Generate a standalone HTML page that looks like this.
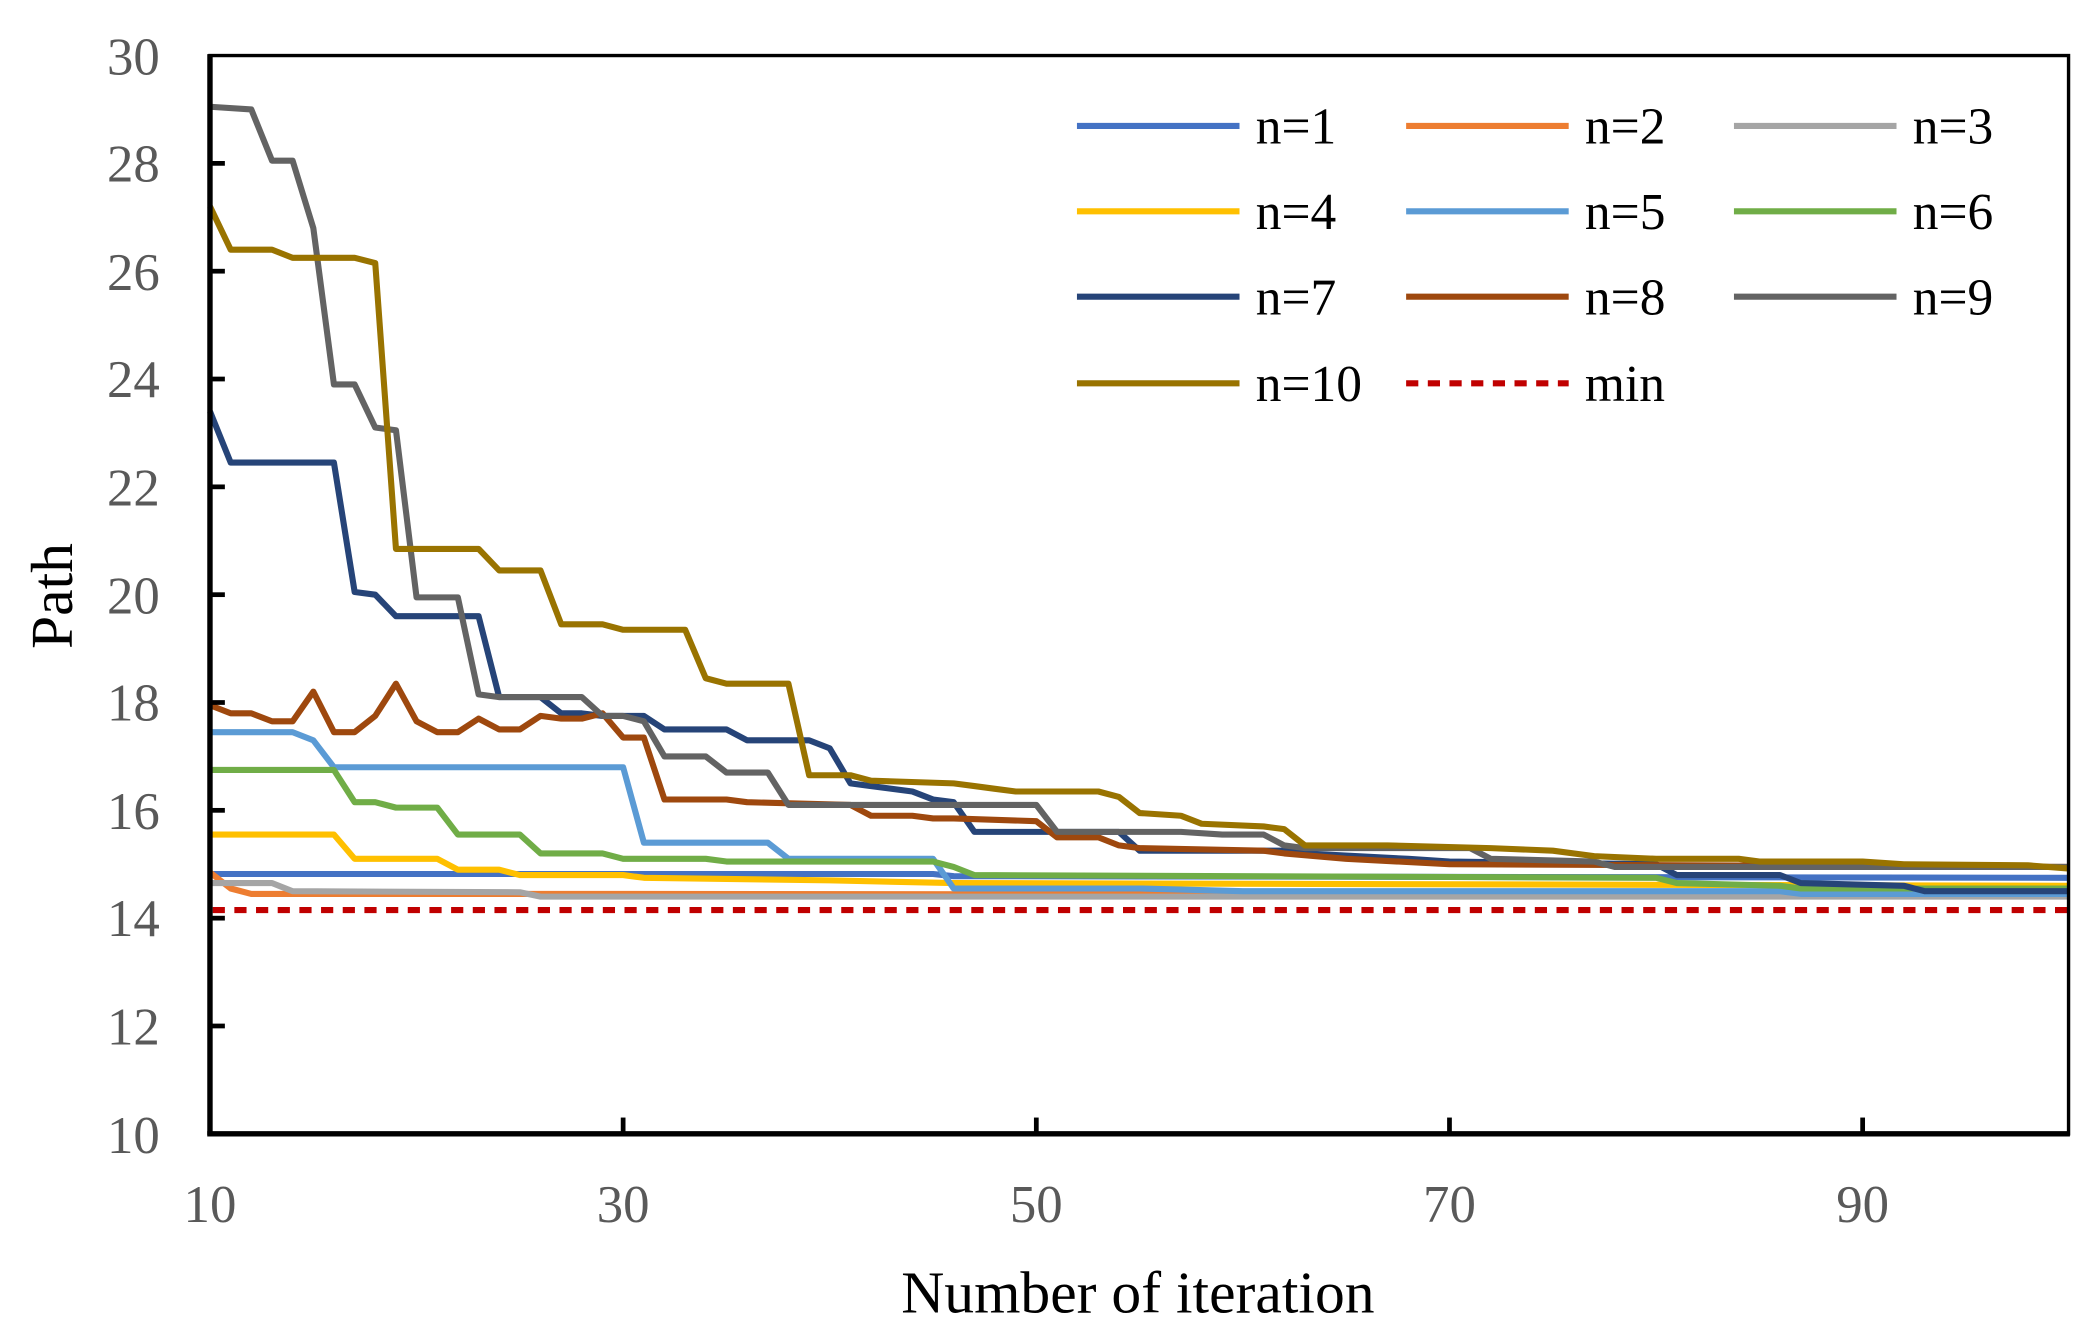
<!DOCTYPE html>
<html><head><meta charset="utf-8"><style>
html,body{margin:0;padding:0;background:#fff;}
svg{display:block}
text{font-family:"Liberation Serif",serif;}
</style></head><body>
<svg id="s" width="2097" height="1324" viewBox="0 0 1548 977.4" preserveAspectRatio="none" xmlns="http://www.w3.org/2000/svg">
<rect x="0" y="0" width="1548" height="977.4" fill="#fff"/>
<g id="series"></g>
<rect x="155" y="41" width="1372" height="796" fill="none" stroke="#000" stroke-width="2.5"/>
<line x1="155" y1="40" x2="155" y2="838" stroke="#000" stroke-width="4"/>
<line x1="153" y1="837" x2="1528" y2="837" stroke="#000" stroke-width="4"/>
<g stroke="#000" stroke-width="3.5">
<line x1="155" y1="120.6" x2="166" y2="120.6"/><line x1="155" y1="200.2" x2="166" y2="200.2"/><line x1="155" y1="279.8" x2="166" y2="279.8"/><line x1="155" y1="359.4" x2="166" y2="359.4"/><line x1="155" y1="439" x2="166" y2="439"/><line x1="155" y1="518.6" x2="166" y2="518.6"/><line x1="155" y1="598.2" x2="166" y2="598.2"/><line x1="155" y1="677.8" x2="166" y2="677.8"/><line x1="155" y1="757.4" x2="166" y2="757.4"/>
<line x1="460" y1="837" x2="460" y2="825"/><line x1="765" y1="837" x2="765" y2="825"/><line x1="1070" y1="837" x2="1070" y2="825"/><line x1="1375" y1="837" x2="1375" y2="825"/>
</g>
<g fill="#595959" font-size="39" text-anchor="end">
<text x="118" y="55">30</text><text x="118" y="134">28</text><text x="118" y="214">26</text><text x="118" y="293">24</text><text x="118" y="373">22</text><text x="118" y="453">20</text><text x="118" y="532">18</text><text x="118" y="612">16</text><text x="118" y="691">14</text><text x="118" y="771">12</text><text x="118" y="851">10</text>
</g>
<g fill="#595959" font-size="39" text-anchor="middle">
<text x="155" y="902">10</text><text x="460" y="902">30</text><text x="765" y="902">50</text><text x="1070" y="902">70</text><text x="1375" y="902">90</text>
</g>
<text x="840" y="969" font-size="44" text-anchor="middle" fill="#000">Number of iteration</text>
<text transform="translate(53,440) rotate(-90)" font-size="44" text-anchor="middle" fill="#000">Path</text>
<g id="legend" font-size="38" fill="#000"></g>
</svg>
<script>
var S=[
["#4472C4","n=1",[[10,14.82],[45,14.82],[46,14.78],[100,14.75]]],
["#ED7D31","n=2",[[10,14.85],[11,14.55],[12,14.45],[13,14.45],[30,14.45],[100,14.42]]],
["#A5A5A5","n=3",[[10,14.65],[13,14.65],[14,14.5],[25,14.48],[26,14.4],[100,14.4]]],
["#FFC000","n=4",[[10,15.55],[16,15.55],[17,15.1],[21,15.1],[22,14.9],[24,14.9],[25,14.8],[30,14.8],[31,14.75],[40,14.7],[46,14.65],[100,14.6]]],
["#5B9BD5","n=5",[[10,17.45],[14,17.45],[15,17.3],[16,16.8],[30,16.8],[31,15.4],[37,15.4],[38,15.1],[45,15.1],[46,14.55],[55,14.55],[60,14.5],[86,14.5],[87,14.45],[100,14.45]]],
["#70AD47","n=6",[[10,16.75],[16,16.75],[17,16.15],[18,16.15],[19,16.05],[21,16.05],[22,15.55],[25,15.55],[26,15.2],[29,15.2],[30,15.1],[34,15.1],[35,15.05],[45,15.05],[46,14.95],[47,14.8],[80,14.75],[81,14.65],[86,14.6],[87,14.55],[100,14.55]]],
["#264478","n=7",[[10,23.4],[11,22.45],[16,22.45],[17,20.05],[18,20.0],[19,19.6],[23,19.6],[24,18.1],[26,18.1],[27,17.8],[28,17.8],[29,17.75],[31,17.75],[32,17.5],[35,17.5],[36,17.3],[39,17.3],[40,17.15],[41,16.5],[42,16.45],[44,16.35],[45,16.2],[46,16.15],[47,15.6],[54,15.6],[55,15.25],[62,15.25],[63,15.2],[68,15.1],[70,15.05],[80,15.0],[81,14.8],[86,14.8],[87,14.65],[92,14.6],[93,14.5],[100,14.5]]],
["#9E480E","n=8",[[10,17.95],[11,17.8],[12,17.8],[13,17.65],[14,17.65],[15,18.2],[16,17.45],[17,17.45],[18,17.75],[19,18.35],[20,17.65],[21,17.45],[22,17.45],[23,17.7],[24,17.5],[25,17.5],[26,17.75],[27,17.7],[28,17.7],[29,17.8],[30,17.35],[31,17.35],[32,16.2],[35,16.2],[36,16.15],[41,16.1],[42,15.9],[44,15.9],[45,15.85],[46,15.85],[50,15.8],[51,15.5],[53,15.5],[54,15.35],[55,15.3],[61,15.25],[62,15.2],[65,15.1],[70,15.0],[100,14.95]]],
["#636363","n=9",[[10,29.05],[12,29.0],[13,28.05],[14,28.05],[15,26.8],[16,23.9],[17,23.9],[18,23.1],[19,23.05],[20,19.95],[22,19.95],[23,18.15],[24,18.1],[28,18.1],[29,17.75],[30,17.75],[31,17.65],[32,17.0],[34,17.0],[35,16.7],[37,16.7],[38,16.1],[50,16.1],[51,15.6],[57,15.6],[59,15.55],[61,15.55],[62,15.35],[63,15.3],[71,15.3],[72,15.1],[77,15.05],[78,14.95],[100,14.95]]],
["#997300","n=10",[[10,27.2],[11,26.4],[13,26.4],[14,26.25],[17,26.25],[18,26.15],[19,20.85],[23,20.85],[24,20.45],[26,20.45],[27,19.45],[29,19.45],[30,19.35],[33,19.35],[34,18.45],[35,18.35],[38,18.35],[39,16.65],[41,16.65],[42,16.55],[46,16.5],[47,16.45],[48,16.4],[49,16.35],[53,16.35],[54,16.25],[55,15.95],[57,15.9],[58,15.75],[61,15.7],[62,15.65],[63,15.35],[67,15.35],[72,15.3],[75,15.25],[77,15.15],[80,15.1],[84,15.1],[85,15.05],[90,15.05],[92,15.0],[98,14.98],[100,14.92]]]
];
var NS="http://www.w3.org/2000/svg";
function X(v){return 155+(v-10)*15.25;}
function Y(v){return 837-(v-10)*39.8;}
var g=document.getElementById("series");
S.forEach(function(s){var p=document.createElementNS(NS,"polyline");
p.setAttribute("points",s[2].map(function(q){return X(q[0]).toFixed(1)+","+Y(q[1]).toFixed(1)}).join(" "));
p.setAttribute("fill","none");p.setAttribute("stroke",s[0]);p.setAttribute("stroke-width","4.5");p.setAttribute("stroke-linejoin","round");g.appendChild(p);});
var m=document.createElementNS(NS,"line");m.setAttribute("x1",157);m.setAttribute("x2",1527);m.setAttribute("y1",Y(14.15));m.setAttribute("y2",Y(14.15));
m.setAttribute("stroke","#C00000");m.setAttribute("stroke-width","4.5");m.setAttribute("stroke-dasharray","9 7");g.appendChild(m);
var L=document.getElementById("legend");
var items=S.map(function(s){return [s[0],s[1],null]});items.push(["#C00000","min","9 7"]);
var cx=[795,1038,1280],ry=[93,156,219,283];
items.forEach(function(it,i){var c=i%3,r=Math.floor(i/3);
var l=document.createElementNS(NS,"line");l.setAttribute("x1",cx[c]);l.setAttribute("x2",cx[c]+120);l.setAttribute("y1",ry[r]);l.setAttribute("y2",ry[r]);
l.setAttribute("stroke",it[0]);l.setAttribute("stroke-width","4.5");if(it[2])l.setAttribute("stroke-dasharray",it[2]);L.appendChild(l);
var t=document.createElementNS(NS,"text");t.setAttribute("x",cx[c]+132);t.setAttribute("y",ry[r]+13);t.textContent=it[1];L.appendChild(t);});
</script>
</body></html>
